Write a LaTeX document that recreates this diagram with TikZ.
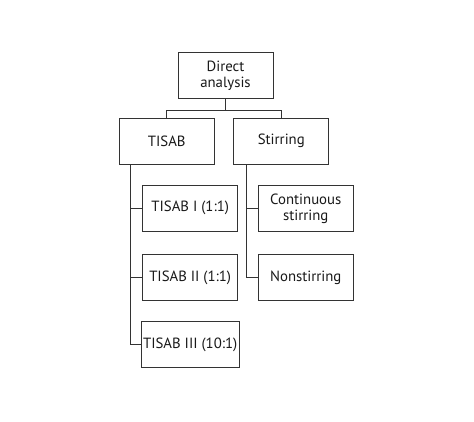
\documentclass[tikz,border=0pt]{standalone}
\usepackage{fontspec}
\setmainfont{PT Sans}
\usetikzlibrary{positioning}

\begin{document}
\begin{tikzpicture}[
    x=1pt, y=-1pt,
    box/.style={rectangle, draw=black!80, line width=0.9pt, fill=white, minimum width=95pt, minimum height=46pt, align=center, inner sep=2pt, text=black!90, font=\fontsize{14.8}{16}\selectfont},
    conn/.style={draw=black!80, line width=0.9pt}
]
\useasboundingbox[fill=white] (0,0) rectangle (474,421);

% Top level
\node[box] (direct) at (225.5,75.3) {Direct\\analysis};

% Second level
\node[box] (tisab) at (166.8,141.2) {TISAB};
\node[box] (stirring) at (281.3,141.2) {Stirring};

% TISAB variants
\node[box] (tisabi) at (190.2,208.3) {TISAB I (1:1)};
\node[box] (tisabii) at (190.2,277.7) {TISAB II (1:1)};
\node[box] (tisabiii) at (190.2,344.7) {TISAB III (10:1)};

% Stirring variants
\node[box] (contin) at (305.8,208.3) {Continuous\\stirring};
\node[box] (nonstir) at (305.8,277.7) {Nonstirring};

% Tree lines
\coordinate (split) at ([yshift=-11.7]direct.south);
\draw[conn] (direct.south) -- (split) -| (tisab.north);
\draw[conn] (split) -| (stirring.north);

\coordinate (tisabtrunk) at ([xshift=11.4]tisab.south west);
\draw[conn] (tisabtrunk) |- (tisabi.west);
\draw[conn] (tisabtrunk) |- (tisabii.west);
\draw[conn] (tisabtrunk) |- (tisabiii.west);

\coordinate (stirtrunk) at ([xshift=13]stirring.south west);
\draw[conn] (stirtrunk) |- (contin.west);
\draw[conn] (stirtrunk) |- (nonstir.west);

\end{tikzpicture}
\end{document}
